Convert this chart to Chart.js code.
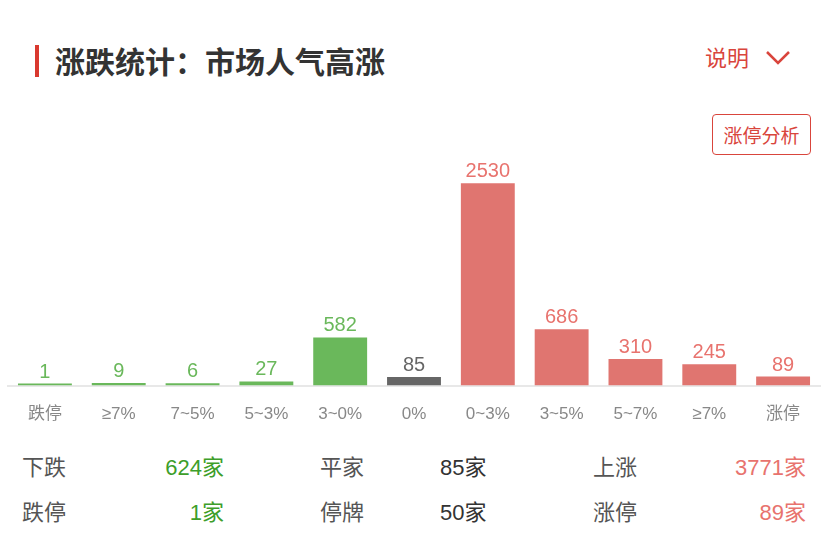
<!DOCTYPE html>
<html>
<head>
<meta charset="utf-8">
<script src="https://cdn.jsdelivr.net/npm/chart.js@4.4.0/dist/chart.umd.min.js"></script>
<style>
  html, body { margin:0; padding:0; background:#fff; }
  body { width:828px; height:547px; position:relative; overflow:hidden;
         font-family: "Liberation Sans", "Noto Sans CJK SC", sans-serif; }
  .accent { position:absolute; left:35px; top:45px; width:4px; height:32px; background:#d9392f; }
  .title { position:absolute; left:55px; top:40px; font-size:30px; line-height:40px; font-weight:bold;
           color:#333; font-family:"Noto Sans CJK SC", sans-serif; }
  .explain { position:absolute; left:705px; top:41px; font-size:22px; line-height:30px; color:#d9453c;
             font-family:"Noto Sans CJK SC", sans-serif; }
  .chev { position:absolute; left:764px; top:48px; }
  .btn { position:absolute; left:712px; top:114px; width:97px; height:39px; border:1.5px solid #d9453c;
         border-radius:4px; color:#d9453c; font-size:19px; line-height:39px; text-align:center;
         font-family:"Noto Sans CJK SC", sans-serif; z-index:2; background:#fff; }
  #wrap { position:absolute; left:0; top:134px; width:828px; height:310px; }
  .stat { position:absolute; font-size:22px; line-height:30px; white-space:nowrap;
          font-family: "Liberation Sans", "Noto Sans CJK SC", sans-serif; }
  .lab { color:#555; }
</style>
</head>
<body>
<div class="accent"></div>
<div class="title">涨跌统计：市场人气高涨</div>
<div class="explain">说明</div>
<svg class="chev" width="30" height="20"><polyline points="3,4 14,15 25,4" fill="none" stroke="#d9453c" stroke-width="2.5"/></svg>
<div class="btn">涨停分析</div>
<div id="wrap"><canvas id="chart"></canvas></div>
<div id="stats"></div>
<script>
// categories and counts
const categories = ["跌停", "≥7%", "7~5%", "5~3%", "3~0%", "0%", "0~3%", "3~5%", "5~7%", "≥7%", "涨停"];
const counts = [1, 9, 6, 27, 582, 85, 2530, 686, 310, 245, 89];
const barColors = ["#6ab85b","#6ab85b","#6ab85b","#6ab85b","#6ab85b","#666666",
                   "#e07570","#e07570","#e07570","#e07570","#e07570"];
const labelColors = ["#6ab85b","#6ab85b","#6ab85b","#6ab85b","#6ab85b","#666666",
                     "#e8736e","#e8736e","#e8736e","#e8736e","#e8736e"];

// summary rows
const statLabels = [["下跌", "平家", "上涨"], ["跌停", "停牌", "涨停"]];
const statValues = [["624家", "85家", "3771家"], ["1家", "50家", "89家"]];
const statColors = ["#3d9e2a", "#333333", "#e8736e"];

/* summary text */
const statsEl = document.getElementById("stats");
const colLabelX = [22, 320, 593];
const colValueRight = [224, null, 806];
const colValueLeft = [null, 440, null];
const rowTop = [453, 498];
statLabels.forEach((row, r) => {
  row.forEach((lab, c) => {
    const l = document.createElement("div");
    l.className = "stat lab";
    l.style.left = colLabelX[c] + "px"; l.style.top = rowTop[r] + "px";
    l.textContent = lab;
    statsEl.appendChild(l);
    const v = document.createElement("div");
    v.className = "stat";
    v.style.top = rowTop[r] + "px";
    v.style.color = statColors[c];
    if (colValueRight[c] !== null) { v.style.right = (828 - colValueRight[c]) + "px"; }
    else { v.style.left = colValueLeft[c] + "px"; }
    v.textContent = statValues[r][c];
    statsEl.appendChild(v);
  });
});

// value labels above bars
const valueLabels = {
  id: "valueLabels",
  afterDatasetsDraw(chart) {
    const ctx = chart.ctx;
    const meta = chart.getDatasetMeta(0);
    ctx.save();
    ctx.font = '20px "Liberation Sans", sans-serif';
    ctx.textAlign = "center";
    ctx.textBaseline = "alphabetic";
    meta.data.forEach((bar, i) => {
      ctx.fillStyle = labelColors[i];
      ctx.fillText(String(counts[i]), bar.x, bar.y - 6);
    });
    ctx.restore();
  }
};

const ctx = document.getElementById("chart").getContext("2d");
new Chart(ctx, {
  type: "bar",
  data: {
    labels: categories,
    datasets: [{
      data: counts,
      backgroundColor: barColors,
      base: -25,
      categoryPercentage: 1,
      barPercentage: 0.73
    }]
  },
  options: {
    responsive: true,
    maintainAspectRatio: false,
    animation: false,
    layout: { padding: { left: 8, right: 8, top: 0, bottom: 0 } },
    plugins: { legend: { display: false }, tooltip: { enabled: false } },
    scales: {
      x: {
        grid: { display: false, drawTicks: false },
        border: { display: true, color: "#e8e8e8", width: 2 },
        ticks: { color: "#888", font: { size: 17, family: '"Liberation Sans", "Noto Sans CJK SC", sans-serif' }, padding: 19 }
      },
      y: {
        display: false,
        min: -25,
        max: 3150
      }
    }
  },
  plugins: [valueLabels]
});
</script>
</body>
</html>
